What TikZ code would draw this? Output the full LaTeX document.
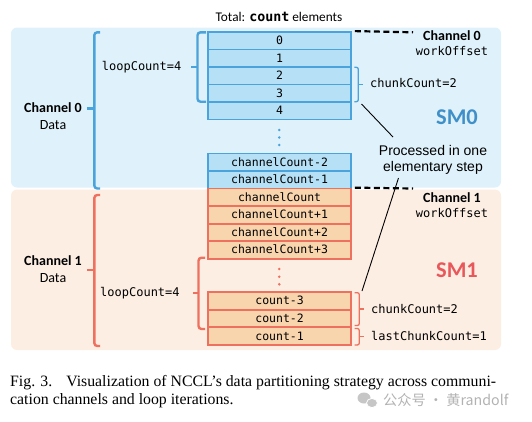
\documentclass[tikz,border=0pt]{standalone}
\usepackage{fontspec}
\setmainfont{Carlito}
\newfontfamily\monof{DejaVu Sans Mono}
\newfontfamily\arialf{Liberation Sans}
\newfontfamily\capf{Liberation Serif}
\newfontfamily\cjkf{Noto Sans CJK SC}
\definecolor{bbg}{HTML}{DFF1FA}
\definecolor{obg}{HTML}{FDEEE3}
\definecolor{bfill}{HTML}{B5E0F6}
\definecolor{bline}{HTML}{4AA3DA}
\definecolor{ofill}{HTML}{F9D5AE}
\definecolor{oline}{HTML}{EE705E}
\definecolor{smb}{HTML}{3F90C9}
\definecolor{smo}{HTML}{E8585A}
\tikzset{
  cellb/.style={draw=bline, fill=bfill, line width=1.8pt, minimum width=142.7pt,
    minimum height=17.5pt, inner sep=0pt, text height=8.2pt, text depth=0.6pt,
    font=\monof\fontsize{11.5}{13}\selectfont},
  cello/.style={cellb, draw=oline, fill=ofill},
  monolab/.style={anchor=west, inner sep=0pt, font=\monof\fontsize{12}{14}\selectfont},
  chlab/.style={align=center, inner sep=0pt, font=\fontsize{14}{17}\selectfont},
  bigbr/.style={line width=2.4pt, rounded corners=3pt},
  smallbr/.style={line width=1.3pt, rounded corners=2pt},
  offdash/.style={line width=2.2pt, dash pattern=on 6pt off 3.5pt},
  pointer/.style={line width=0.9pt, black},
  capstyle/.style={anchor=west, inner sep=0pt, font=\capf\fontsize{15.8}{18}\selectfont},
}
\begin{document}
\begin{tikzpicture}[x=1pt,y=-1pt]
\useasboundingbox (0,0) rectangle (532,421);
% backgrounds
\fill[bbg, rounded corners=6pt] (11,27.5) rectangle (501,187.5);
\fill[obg, rounded corners=6pt] (11,189.5) rectangle (501,350);
% title
\node[inner sep=0pt, font=\fontsize{13.3}{15}\selectfont] (title) at (279,17) {Total: {\monof\bfseries count} elements};
% blue cells
\node[cellb] (c0) at (279.6,40.75) {0};
\node[cellb] (c1) at (279.6,58.25) {1};
\node[cellb] (c2) at (279.6,75.75) {2};
\node[cellb] (c3) at (279.6,93.25) {3};
\node[cellb] (c4) at (279.6,110.75) {4};
\node[cellb] (cm2) at (279.6,162.25) {channelCount-2};
\node[cellb] (cm1) at (279.6,179.75) {channelCount-1};
% orange cells
\node[cello] (d0) at (279.6,197.3) {channelCount};
\node[cello] (d1) at (279.6,214.9) {channelCount+1};
\node[cello] (d2) at (279.6,232.5) {channelCount+2};
\node[cello] (d3) at (279.6,250.1) {channelCount+3};
\node[cello] (e3) at (279.6,301.0) {count-3};
\node[cello] (e2) at (279.6,318.6) {count-2};
\node[cello] (e1) at (279.6,336.2) {count-1};
% dots
\foreach \yy in {130,137.5,145} \fill[bline] (279.3,\yy) circle (1.4pt);
\foreach \yy in {269,276.7,284.3} \fill[oline] (279.3,\yy) circle (1.4pt);
% big channel braces
\draw[bigbr, bline] (100,32.3) -- (94.3,32.3) -- (94.3,188.5) -- (100,188.5);
\draw[line width=2.4pt, bline] (94.3,108.5) -- (87,108.5);
\draw[bigbr, oline] (100,195) -- (94.3,195) -- (94.3,346) -- (100,346);
\draw[line width=2.4pt, oline] (94.3,270) -- (87,270);
% loop braces
\draw[bigbr, bline] (206,32.3) -- (197.5,32.3) -- (197.5,101.7) -- (206,101.7);
\draw[line width=2.4pt, bline] (197.5,67) -- (191,67);
\draw[bigbr, oline] (205,257.7) -- (198.5,257.7) -- (198.5,329) -- (205,329);
\draw[line width=2.4pt, oline] (198.5,292.7) -- (192.5,292.7);
% chunk braces
\draw[smallbr, bline] (354.3,67.3) -- (358.3,67.3) -- (358.3,101.7) -- (354.3,101.7);
\draw[line width=1.3pt, bline] (358.3,84.5) -- (363,84.5);
\draw[smallbr, oline] (354.7,292.7) -- (359.3,292.7) -- (359.3,325.5) -- (354.7,325.5);
\draw[line width=1.3pt, oline] (359.3,309) -- (363.5,309);
\draw[smallbr, oline] (354.7,328.5) -- (359.3,328.5) -- (359.3,345) -- (354.7,345);
\draw[line width=1.3pt, oline] (359.3,336.7) -- (363.5,336.7);
% labels
\node[chlab] (ch0) at (53,116.5) {\textbf{Channel 0}\\Data};
\node[chlab] (ch1) at (53,269.5) {\textbf{Channel 1}\\Data};
\node[monolab] (lc0) at (101.7,66.7) {loopCount=4};
\node[monolab] (lc1) at (100,292.7) {loopCount=4};
\node[monolab] (cc0) at (370,83.5) {chunkCount=2};
\node[monolab] (cc1) at (371,309) {chunkCount=2};
\node[monolab] (lcc) at (371,336) {lastChunkCount=1};
% work offsets
\node[chlab, font=\fontsize{14}{15.5}\selectfont] (w0) at (452,43) {\textbf{Channel 0}\\{\monof\fontsize{12}{14}\selectfont workOffset}};
\node[chlab, font=\fontsize{14}{15.5}\selectfont] (w1) at (452,205) {\textbf{Channel 1}\\{\monof\fontsize{12}{14}\selectfont workOffset}};
\coordinate (dz0) at (413,32.3);
\coordinate (dz1) at (413,188.5);
\draw[offdash] (c0.north east) ++(3,0) -- (dz0);
\draw[offdash] (d0.north east) ++(3,0) -- (dz1);
% SM labels
\node[inner sep=0pt, text=smb, font=\bfseries\fontsize{22.5}{26}\selectfont] (sm0) at (457,117) {SM0};
\node[inner sep=0pt, text=smo, font=\bfseries\fontsize{22.5}{26}\selectfont] (sm1) at (457,270) {SM1};
% processed note
\node[align=center, inner sep=0pt, font=\arialf\fontsize{14}{16.5}\selectfont] (proc) at (433,160) {Processed in one\\elementary step};
\coordinate (p1) at (393,137);
\coordinate (p2) at (398.5,178);
\coordinate (b0) at (361.5,104);
\coordinate (b1) at (362,291);
\draw[pointer] (b0) -- (p1);
\draw[pointer] (b1) -- (p2);
% caption
\node[capstyle] (cap1) at (10,383) {Fig. 3.\hspace{0.55em} Visualization of NCCL’s data partitioning strategy across communi-};
\node[capstyle] (cap2) at (10,401) {cation channels and loop iterations.};
% watermark
\fill[gray!45] (364,398) ellipse (6.5pt and 5.5pt);
\fill[gray!45, draw=white, line width=0.8pt] (372,403) ellipse (5.5pt and 4.6pt);
\node[anchor=west, inner sep=0pt, text=gray!60, font=\cjkf\fontsize{14.2}{16}\selectfont] (wm) at (383,400) {公众号 · 黄randolf};
\end{tikzpicture}
\end{document}
